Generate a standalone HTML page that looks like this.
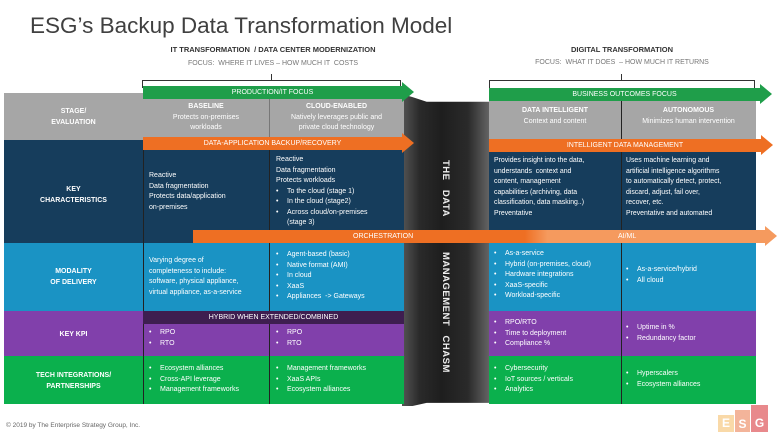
<!DOCTYPE html>
<html><head><meta charset="utf-8"><style>
*{margin:0;padding:0;box-sizing:border-box}
body{width:779px;height:445px;background:#fff;position:relative;overflow:hidden;font-family:"Liberation Sans",sans-serif;color:#fff}
.a{position:absolute}
.t{font-size:7px;line-height:10.5px}
.c{text-align:center}
.b{font-weight:bold}
ul{list-style:none}
li:before{content:"•";display:inline-block;width:11px}
.hd{color:#333;font-size:7.5px;text-align:center}
.arr{position:absolute;height:13px;font-size:7px;line-height:13px;text-align:center}
.arr:after{content:"";position:absolute;right:-12px;top:-4px;border-left:12px solid;border-top:10.5px solid transparent;border-bottom:10.5px solid transparent;border-left-color:inherit}
.ch{position:absolute;left:438px;width:14px;writing-mode:vertical-rl;font-size:9.5px;font-weight:bold;letter-spacing:0.5px;color:#eee;line-height:14px}
</style></head><body>
<div class="a" style="left:30px;top:13px;font-size:22.5px;color:#404040">ESG’s Backup Data Transformation Model</div>
<div class="a hd b" style="left:143px;top:45px;width:260px">IT TRANSFORMATION &nbsp;/ DATA CENTER MODERNIZATION</div>
<div class="a hd" style="left:143px;top:60px;width:260px;color:#777;font-size:7px">FOCUS: &nbsp;WHERE IT LIVES – HOW MUCH IT &nbsp;COSTS</div>
<div class="a hd b" style="left:489px;top:45px;width:266px">DIGITAL TRANSFORMATION</div>
<div class="a hd" style="left:489px;top:59px;width:266px;color:#777;font-size:7px">FOCUS: &nbsp;WHAT IT DOES &nbsp;– HOW MUCH IT RETURNS</div>
<div class="a" style="left:142px;top:80px;width:259px;height:8px;border:1px solid #333;border-bottom:none"></div>
<div class="a" style="left:271px;top:74px;width:1px;height:6px;background:#333"></div>
<div class="a" style="left:489px;top:80px;width:266px;height:8px;border:1px solid #333;border-bottom:none"></div>
<div class="a" style="left:621px;top:74px;width:1px;height:6px;background:#333"></div>

<!-- chasm -->
<div class="a" style="left:402px;top:94px;width:88px;height:312px;background:linear-gradient(90deg,#555,#2a2a2a 20%,#1e1e1e 45%,#2a2a2a 75%,#666);clip-path:polygon(0 0,12% 1%,28% 2.5%,100% 2.5%,100% 99%,28% 99%,12% 100%,0 100%)"></div>
<div class="ch" style="top:160px">THE &nbsp;&nbsp;DATA</div>
<div class="ch" style="top:252px">MANAGEMENT &nbsp;&nbsp;CHASM</div>

<!-- left rows -->
<div class="a" style="left:4px;top:93px;width:139px;height:47px;background:#a6a6a6"></div>
<div class="a" style="left:143px;top:98px;width:261px;height:42px;background:#a6a6a6"></div>
<div class="a" style="left:269px;top:98px;width:1px;height:42px;background:#777"></div>
<div class="a" style="left:4px;top:140px;width:400px;height:103px;background:#163d5c"></div>
<div class="a" style="left:4px;top:243px;width:400px;height:68px;background:#1a93c4"></div>
<div class="a" style="left:4px;top:311px;width:400px;height:45px;background:#8140ab"></div>
<div class="a" style="left:4px;top:356px;width:400px;height:48px;background:#0bb04d"></div>
<div class="a" style="left:143px;top:149px;width:1px;height:255px;background:#222"></div>
<div class="a" style="left:269px;top:149px;width:1px;height:255px;background:#222"></div>
<div class="a" style="left:143px;top:311px;width:261px;height:13px;background:#3e1e50;font-size:7px;line-height:13px;text-align:center">HYBRID WHEN EXTENDED/COMBINED</div>

<!-- right rows -->
<div class="a" style="left:489px;top:100px;width:267px;height:39px;background:#a6a6a6"></div>
<div class="a" style="left:489px;top:151px;width:267px;height:92px;background:#163d5c"></div>
<div class="a" style="left:489px;top:243px;width:267px;height:68px;background:#1a93c4"></div>
<div class="a" style="left:489px;top:311px;width:267px;height:45px;background:#8140ab"></div>
<div class="a" style="left:489px;top:356px;width:267px;height:48px;background:#0bb04d"></div>
<div class="a" style="left:621px;top:100px;width:1px;height:304px;background:#222"></div>

<!-- arrows -->
<div class="arr" style="left:143px;top:86px;width:259px;background:#1f9e4a;border-color:#1f9e4a">PRODUCTION/IT FOCUS</div>
<div class="arr" style="left:489px;top:88px;width:271px;background:#1f9e4a;border-color:#1f9e4a">BUSINESS OUTCOMES FOCUS</div>
<div class="arr" style="left:143px;top:137px;width:259px;background:#ee6f23;border-color:#ee6f23">DATA-APPLICATION BACKUP/RECOVERY</div>
<div class="arr" style="left:489px;top:139px;width:272px;background:#ee6f23;border-color:#ee6f23">INTELLIGENT DATA MANAGEMENT</div>
<div class="arr" style="left:193px;top:230px;width:572px;background:linear-gradient(90deg,#ee6f23 58%,#f59a5e 62%);border-color:#f59a5e"><span style="position:absolute;left:160px">ORCHESTRATION</span><span style="position:absolute;left:425px">AI/ML</span></div>

<!-- left text -->
<div class="a t c b" style="left:4px;top:107px;width:139px">STAGE/<br>EVALUATION</div>
<div class="a t c b" style="left:4px;top:185px;width:139px">KEY<br>CHARACTERISTICS</div>
<div class="a t c b" style="left:4px;top:267px;width:139px">MODALITY<br>OF DELIVERY</div>
<div class="a t c b" style="left:4px;top:330px;width:139px">KEY KPI</div>
<div class="a t c b" style="left:4px;top:371px;width:139px">TECH INTEGRATIONS/<br>PARTNERSHIPS</div>

<div class="a t c" style="left:143px;top:102px;width:126px"><b>BASELINE</b><br>Protects on-premises<br>workloads</div>
<div class="a t c" style="left:269px;top:102px;width:135px"><b>CLOUD-ENABLED</b><br>Natively leverages public and<br>private cloud technology</div>
<div class="a t" style="left:149px;top:171px">Reactive<br>Data fragmentation<br>Protects data/application<br>on-premises</div>
<div class="a t" style="left:276px;top:155px">Reactive<br>Data fragmentation<br>Protects workloads<ul><li>To the cloud (stage 1)</li><li>In the cloud (stage2)</li><li>Across cloud/on-premises</li></ul><span style="padding-left:11px">(stage 3)</span></div>
<div class="a t" style="left:149px;top:256px">Varying degree of<br>completeness to include:<br>software, physical appliance,<br>virtual appliance, as-a-service</div>
<ul class="a t" style="left:276px;top:250px"><li>Agent-based (basic)</li><li>Native format (AMI)</li><li>In cloud</li><li>XaaS</li><li>Appliances &nbsp;-&gt; Gateways</li></ul>
<ul class="a t" style="left:149px;top:328px"><li>RPO</li><li>RTO</li></ul>
<ul class="a t" style="left:276px;top:328px"><li>RPO</li><li>RTO</li></ul>
<ul class="a t" style="left:149px;top:364px"><li>Ecosystem alliances</li><li>Cross-API leverage</li><li>Management frameworks</li></ul>
<ul class="a t" style="left:276px;top:364px"><li>Management frameworks</li><li>XaaS APIs</li><li>Ecosystem alliances</li></ul>

<!-- right text -->
<div class="a t c" style="left:489px;top:106px;width:132px"><b>DATA INTELLIGENT</b><br>Context and content</div>
<div class="a t c" style="left:621px;top:106px;width:135px"><b>AUTONOMOUS</b><br>Minimizes human intervention</div>
<div class="a t" style="left:494px;top:156px;font-size:6.9px">Provides insight into the data,<br>understands &nbsp;context and<br>content, management<br>capabilities (archiving, data<br>classification, data masking..)<br>Preventative</div>
<div class="a t" style="left:626px;top:156px;font-size:6.9px">Uses machine learning and<br>artificial intelligence algorithms<br>to automatically detect, protect,<br>discard, adjust, fail over,<br>recover, etc.<br>Preventative and automated</div>
<ul class="a t" style="left:494px;top:249px"><li>As-a-service</li><li>Hybrid (on-premises, cloud)</li><li>Hardware integrations</li><li>XaaS-specific</li><li>Workload-specific</li></ul>
<ul class="a t" style="left:626px;top:265px"><li>As-a-service/hybrid</li><li>All cloud</li></ul>
<ul class="a t" style="left:494px;top:318px"><li>RPO/RTO</li><li>Time to deployment</li><li>Compliance %</li></ul>
<ul class="a t" style="left:626px;top:323px"><li>Uptime in %</li><li>Redundancy factor</li></ul>
<ul class="a t" style="left:494px;top:364px"><li>Cybersecurity</li><li>IoT sources / verticals</li><li>Analytics</li></ul>
<ul class="a t" style="left:626px;top:369px"><li>Hyperscalers</li><li>Ecosystem alliances</li></ul>

<div class="a" style="left:6px;top:422px;font-size:6.5px;color:#666">© 2019 by The Enterprise Strategy Group, Inc.</div>
<div class="a" style="left:718px;top:415px;width:16px;height:17px;background:#f9d9a8;color:#fff;font-size:12px;font-weight:bold;text-align:center;line-height:17px">E</div>
<div class="a" style="left:735px;top:410px;width:15px;height:22px;background:#f3b49a;color:#fff;font-size:12px;font-weight:bold;text-align:center;line-height:28px">S</div>
<div class="a" style="left:751px;top:405px;width:17px;height:27px;background:#e8898c;color:#fff;font-size:12px;font-weight:bold;text-align:center;line-height:36px">G</div>
</body></html>
